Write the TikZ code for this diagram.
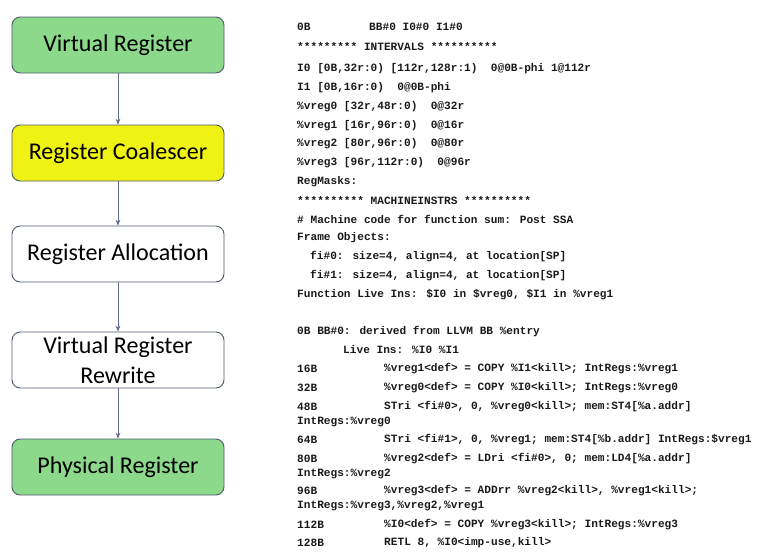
\documentclass[tikz,border=0pt]{standalone}
\usepackage{fontspec}
\setsansfont{Carlito}
\newfontfamily\codefont{Liberation Mono}
\usetikzlibrary{arrows.meta}

\definecolor{stagegreen}{RGB}{140,217,140}
\definecolor{stageyellow}{RGB}{240,242,20}
\definecolor{stageline}{RGB}{80,90,110}
\definecolor{flowline}{RGB}{100,110,140}

\tikzset{
    stage/.style={draw=stageline, line width=0.8pt, rounded corners=7pt, fill=white,
        minimum width=6.36cm, minimum height=1.68cm, align=center,
        font=\sffamily\fontsize{20.5}{24}\selectfont, text=black},
    flow/.style={->, >={Stealth[length=5pt,width=4pt]}, draw=flowline, line width=0.6pt},
    codeline/.style={anchor=west, inner sep=0pt, text=black!90,
        font=\codefont\bfseries\fontsize{9.5}{11}\selectfont}
}

\begin{document}
\begin{tikzpicture}[x=0.03cm, y=-0.03cm]

    % Canvas
    \useasboundingbox (0,0) rectangle (758,558);

    % Pipeline stages on the left
    \node[stage, fill=stagegreen] (vreg) at (118,45) {Virtual Register};
    \node[stage, fill=stageyellow] (coalescer) at (118,153) {Register Coalescer};
    \node[stage] (alloc) at (118,254) {Register Allocation};
    \node[stage] (rewrite) at (118,360) {Virtual Register\\[2pt]Rewrite};
    \node[stage, fill=stagegreen] (phys) at (118,467) {Physical Register};

    % Arrows between stages
    \draw[flow] (vreg) -- (coalescer);
    \draw[flow] (coalescer) -- (alloc);
    \draw[flow] (alloc) -- (rewrite);
    \draw[flow] (rewrite) -- (phys);

    % Intervals dump
    \node[codeline] (ofs) at (297,27) {0B};
    \node[codeline] (bbhead) at (369,27) {BB\#0 I0\#0 I1\#0};
    \node[codeline] (intervals) at (297,47) {********* INTERVALS **********};
    \node[codeline] (ivi0) at (297,69) {I0 [0B,32r:0) [112r,128r:1)\ \ 0@0B-phi 1@112r};
    \node[codeline] (ivi1) at (297,88) {I1 [0B,16r:0)\ \ 0@0B-phi};
    \node[codeline] (ivv0) at (297,107) {\%vreg0 [32r,48r:0)\ \ 0@32r};
    \node[codeline] (ivv1) at (297,126) {\%vreg1 [16r,96r:0)\ \ 0@16r};
    \node[codeline] (ivv2) at (297,144) {\%vreg2 [80r,96r:0)\ \ 0@80r};
    \node[codeline] (ivv3) at (297,163) {\%vreg3 [96r,112r:0)\ \ 0@96r};
    \node[codeline] (masks) at (297,182) {RegMasks:};

    % Machine instructions dump
    \node[codeline] (minstrs) at (297,201) {********** MACHINEINSTRS **********};
    \node[codeline] (mcode) at (297,219) {\# Machine code for function sum: Post SSA};
    \node[codeline] (frame) at (297,238) {Frame Objects:};
    \node[codeline] (fi0) at (310,257) {fi\#0: size=4, align=4, at location[SP]};
    \node[codeline] (fi1) at (310,276) {fi\#1: size=4, align=4, at location[SP]};
    \node[codeline] (livein) at (297,295) {Function Live Ins: \$I0 in \$vreg0, \$I1 in \%vreg1};

    \node[codeline] (bb0) at (297,332) {0B BB\#0: derived from LLVM BB \%entry};
    \node[codeline] (bblive) at (343,350) {Live Ins: \%I0 \%I1};

    % Instruction slots and bodies
    \node[codeline] (s16) at (297,369) {16B};
    \node[codeline] (i16) at (384,369) {\%vreg1<def> = COPY \%I1<kill>; IntRegs:\%vreg1};
    \node[codeline] (s32) at (297,388) {32B};
    \node[codeline] (i32) at (384,388) {\%vreg0<def> = COPY \%I0<kill>; IntRegs:\%vreg0};
    \node[codeline] (s48) at (297,407) {48B};
    \node[codeline] (i48) at (384,407) {STri <fi\#0>, 0, \%vreg0<kill>; mem:ST4[\%a.addr]};
    \node[codeline] (i48b) at (297,422) {IntRegs:\%vreg0};
    \node[codeline] (s64) at (297,440) {64B};
    \node[codeline] (i64) at (384,440) {STri <fi\#1>, 0, \%vreg1; mem:ST4[\%b.addr] IntRegs:\$vreg1};
    \node[codeline] (s80) at (297,459) {80B};
    \node[codeline] (i80) at (384,459) {\%vreg2<def> = LDri <fi\#0>, 0; mem:LD4[\%a.addr]};
    \node[codeline] (i80b) at (297,474) {IntRegs:\%vreg2};
    \node[codeline] (s96) at (297,491) {96B};
    \node[codeline] (i96) at (384,491) {\%vreg3<def> = ADDrr \%vreg2<kill>, \%vreg1<kill>;};
    \node[codeline] (i96b) at (297,506) {IntRegs:\%vreg3,\%vreg2,\%vreg1};
    \node[codeline] (s112) at (297,525) {112B};
    \node[codeline] (i112) at (384,525) {\%I0<def> = COPY \%vreg3<kill>; IntRegs:\%vreg3};
    \node[codeline] (s128) at (297,543) {128B};
    \node[codeline] (i128) at (384,543) {RETL 8, \%I0<imp-use,kill>};

\end{tikzpicture}
\end{document}
